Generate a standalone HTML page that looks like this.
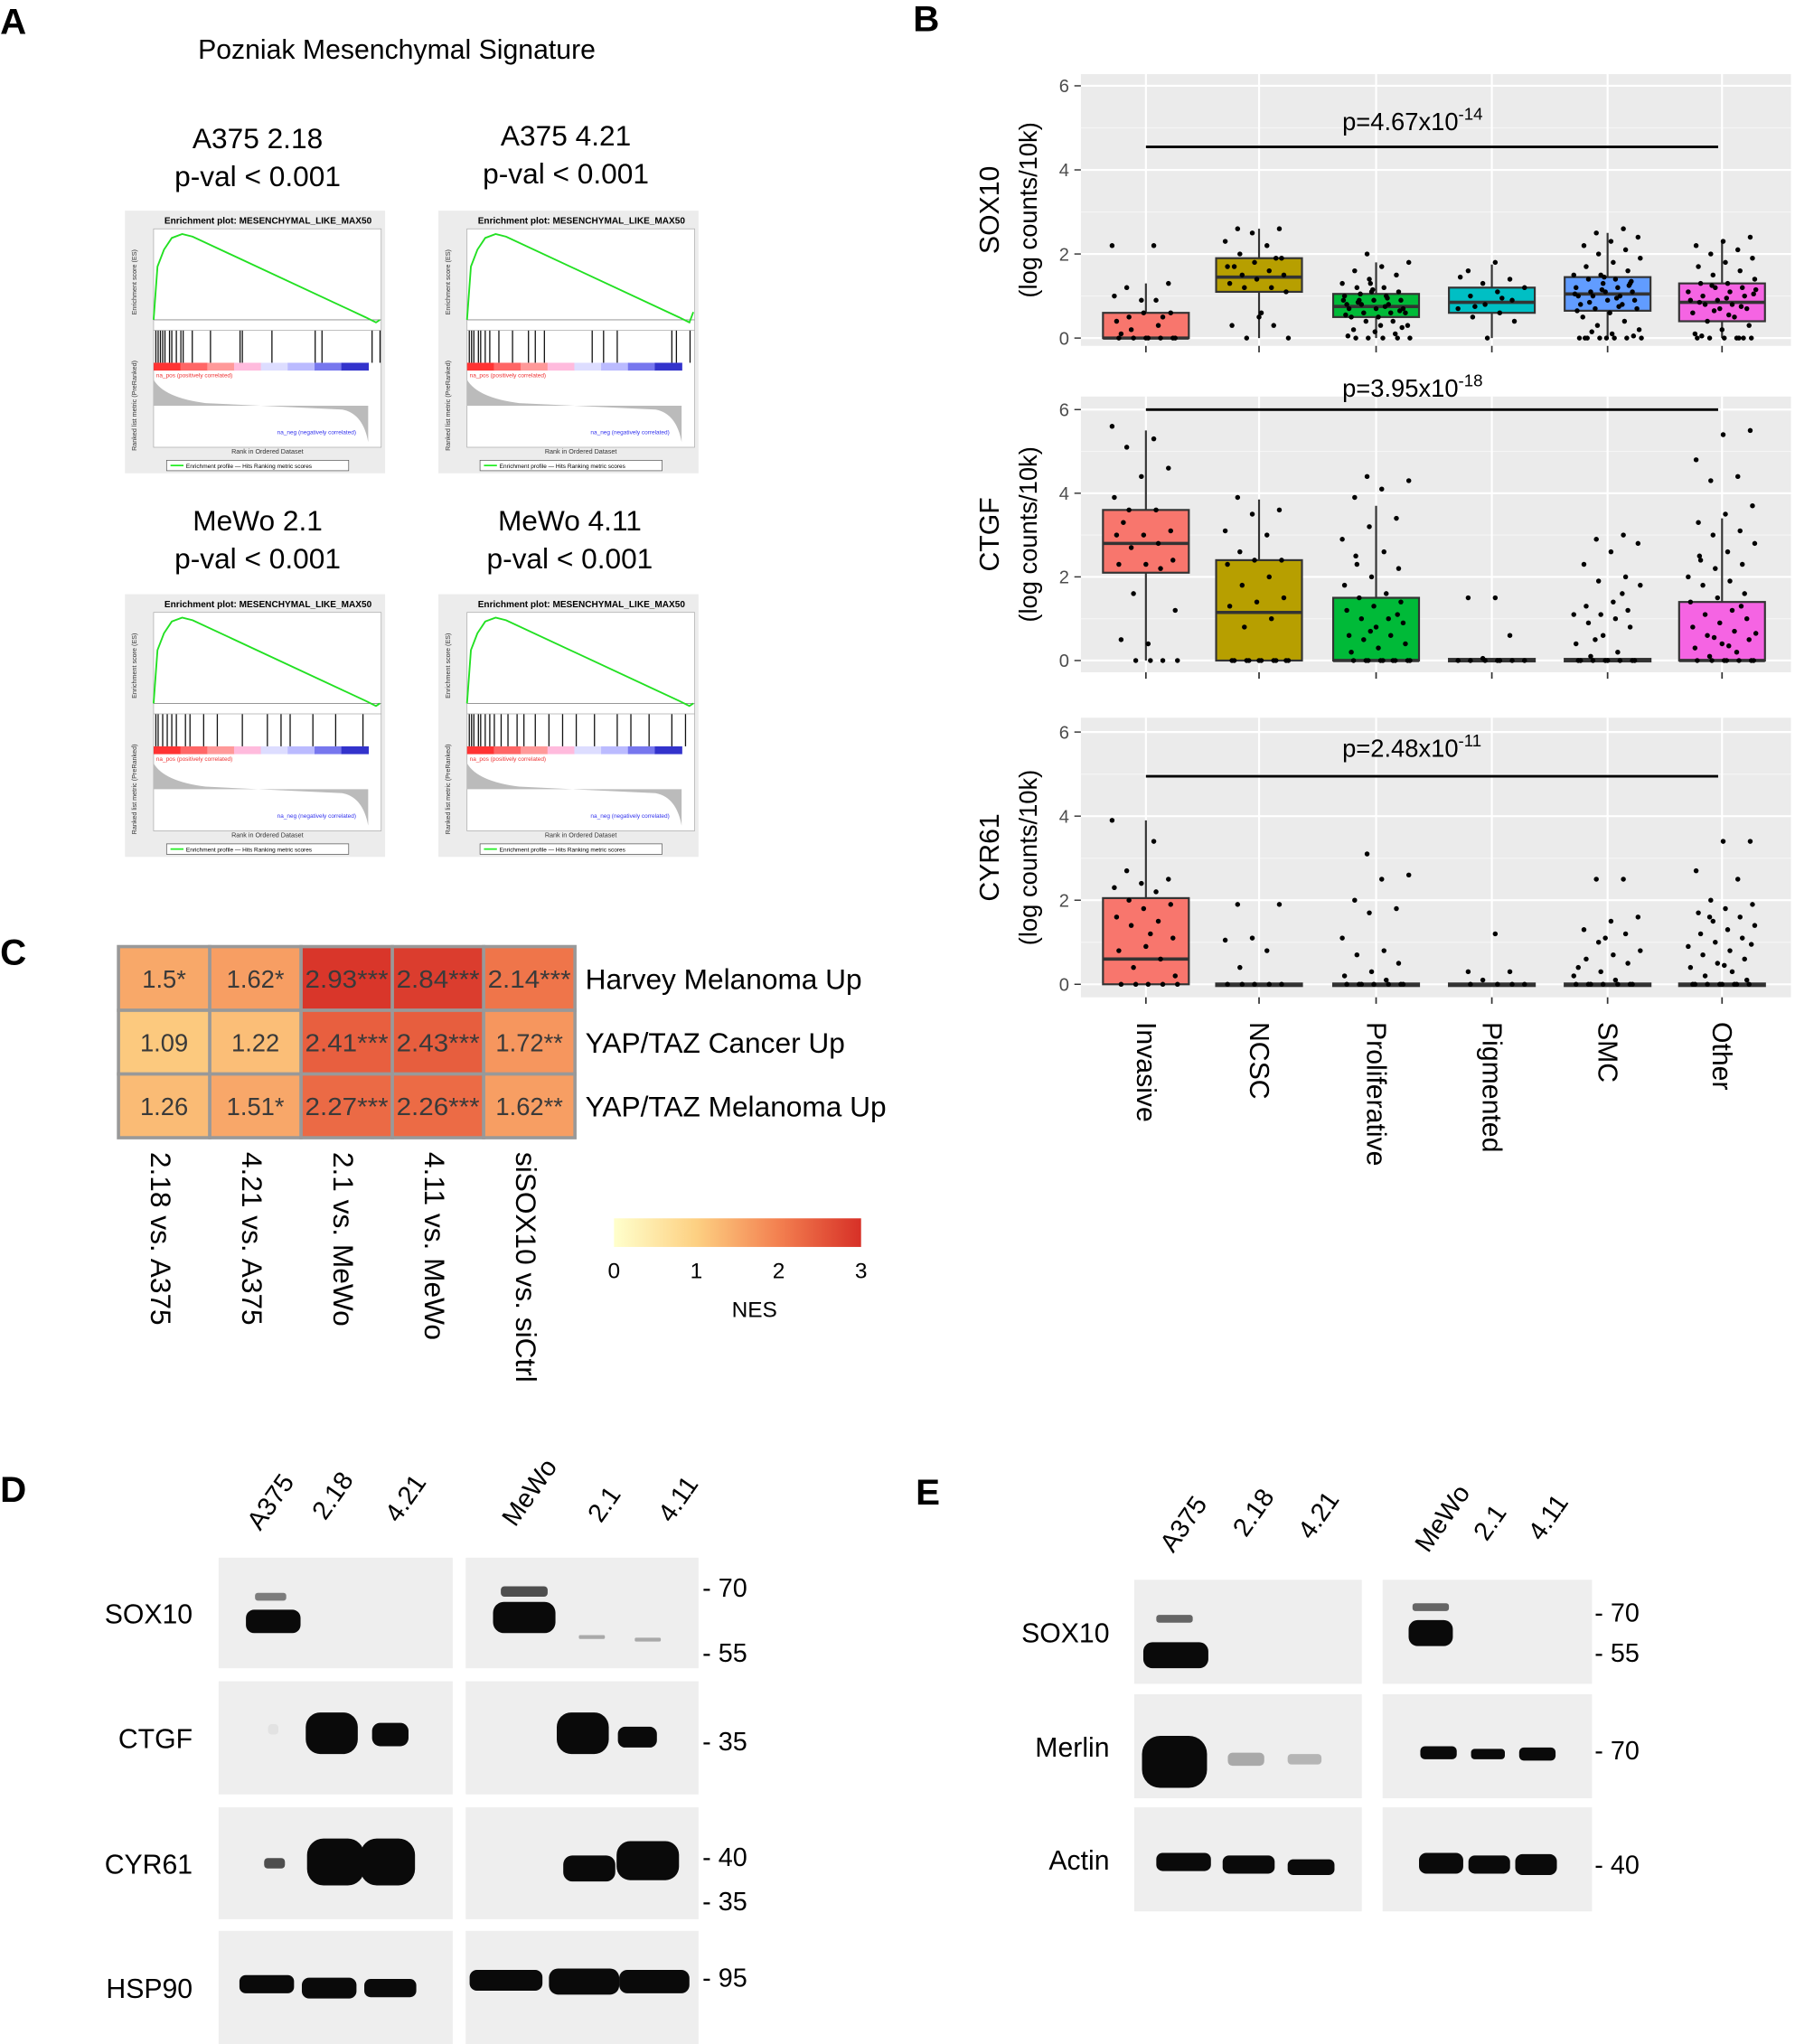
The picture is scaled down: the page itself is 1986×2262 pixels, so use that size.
<!DOCTYPE html>
<html><head><meta charset="utf-8"><style>
html,body{margin:0;padding:0;background:#fff}
svg{display:block;font-family:"Liberation Sans",Arial,sans-serif}
</style></head><body>
<svg id="fig" width="1986" height="2262" viewBox="0 0 1380 1572" xmlns="http://www.w3.org/2000/svg">
<g id="panelA">
<text x="0" y="26" font-size="28" font-weight="bold">A</text>
<text x="305" y="45" font-size="21" text-anchor="middle">Pozniak Mesenchymal Signature</text>
<g><text x="198" y="114" font-size="22" text-anchor="middle">A375  2.18</text><text x="198" y="143" font-size="22" text-anchor="middle">p-val &lt; 0.001</text></g>
<g><text x="435" y="112" font-size="22" text-anchor="middle">A375  4.21</text><text x="435" y="141" font-size="22" text-anchor="middle">p-val &lt; 0.001</text></g>
<g><text x="198" y="408" font-size="22" text-anchor="middle">MeWo 2.1</text><text x="198" y="437" font-size="22" text-anchor="middle">p-val &lt; 0.001</text></g>
<g><text x="438" y="408" font-size="22" text-anchor="middle">MeWo 4.11</text><text x="438" y="437" font-size="22" text-anchor="middle">p-val &lt; 0.001</text></g>
<g id="gseaHost"></g>
</g>
<g id="panelB">
<text x="702" y="24" font-size="28" font-weight="bold">B</text>
</g>
<g id="panelC">
<text x="0" y="742" font-size="28" font-weight="bold">C</text>
</g>
<g id="panelD">
<text x="0" y="1155" font-size="28" font-weight="bold">D</text>
</g>
<g id="panelE">
<text x="704" y="1157" font-size="28" font-weight="bold">E</text>
</g>
</svg>
<script>
const NS='http://www.w3.org/2000/svg';
function mk(tag,attrs,parent,text){const e=document.createElementNS(NS,tag);for(const k in attrs)e.setAttribute(k,attrs[k]);if(text!==undefined)e.textContent=text;parent.appendChild(e);return e;}

/* ---------- Panel B data ---------- */
const categories=['Invasive','NCSC','Proliferative','Pigmented','SMC','Other'];
const boxColors=['#f8766d','#b79f00','#00ba38','#00bfc4','#619cff','#f564e3'];
const sox10Stats=[[0,0,0,0.6,1.3],[0,1.1,1.45,1.9,2.6],[0,0.5,0.75,1.05,1.8],[0,0.6,0.85,1.2,1.75],[0,0.65,1.05,1.45,2.5],[0,0.4,0.85,1.3,2.3]];
const ctgfStats=[[0,2.1,2.8,3.6,5.5],[0,0,1.15,2.4,3.85],[0,0,0,1.5,3.7],[0,0,0,0.04,0.04],[0,0,0,0.04,0.04],[0,0,0,1.4,3.4]];
const cyr61Stats=[[0,0,0.6,2.05,3.9],[0,0,0,0.02,0.02],[0,0,0,0.02,0.02],[0,0,0,0.02,0.02],[0,0,0,0.02,0.02],[0,0,0,0.02,0.02]];
const sox10Points=[[2.2,2.2,1.2,1.3,0.9,1,0.9,0.5,0.6,0.6,0.4,0.3,0.2,0,0,0,0,0,0,0,0.1,0.5],
[2.6,2.6,2.5,2.3,2.2,2,1.9,1.8,1.7,1.6,1.5,1.5,1.4,1.3,1.2,1.2,1.1,0.5,0.3,0.3,0,0,0.6,1.7,1.9],
[2,1.8,1.7,1.6,1.5,1.4,1.3,1.2,1.2,1.1,1.1,1,1,0.9,0.9,0.9,0.8,0.8,0.8,0.7,0.7,0.7,0.6,0.6,0.6,0.5,0.5,0.4,0.4,0.3,0.3,0.2,0.1,0,0,0,0,0,1.3,0.9,0.75,0.85,0.65,1.15,0.55,0.95,1.05,0.25,0.15,0.05],
[1.8,1.6,1.4,1.3,1.2,1.1,1,0.9,0.8,0.7,0.6,0.5,0.4,0,1.45,0.95,0.75],
[2.6,2.5,2.4,2.3,2.2,2.1,2,1.9,1.8,1.7,1.6,1.5,1.5,1.4,1.4,1.3,1.3,1.2,1.2,1.1,1.1,1.1,1,1,1,0.9,0.9,0.8,0.8,0.7,0.7,0.6,0.5,0.4,0.3,0.2,0.1,0,0,0,0,0,0,1.25,1.15,1.05,0.95,0.85,1.35,1.45,0.65,0.75,0.15,0.05,0,0],
[2.4,2.3,2.2,2.1,2,1.9,1.8,1.7,1.6,1.5,1.4,1.3,1.3,1.2,1.2,1.1,1.1,1,1,0.9,0.9,0.8,0.8,0.7,0.7,0.6,0.5,0.4,0.3,0.2,0.1,0,0,0,0,0,0,1.25,1.05,0.95,0.85,0.75,0.65,1.15,0.55,0.05,0]];
const ctgfPoints=[[5.6,5.3,5.1,4.6,4.4,3.9,3.6,3.6,3.1,3,3,2.8,2.7,2.4,2.3,2.3,2.2,1.6,1.2,0.4,0.5,0,0,0,0,3.3],
[3.9,3.6,3.5,3.1,3,2.6,2.4,2.4,2.3,2,1.8,1.5,1.4,1.3,1,0.8,0,0,0,0,0,0,0,0,0,0],
[4.4,4.3,4.1,3.9,3.4,3.2,2.9,2.6,2.3,2.2,2,1.8,1.6,1.5,1.4,1.3,1.2,1,1,0.9,0.8,0.6,0.6,0.5,0.4,0.3,0.2,0,0,0,0,0,0,0,0,0,2.5,1.1,0.7],
[1.5,1.5,0.6,0.05,0,0,0,0,0,0,0],
[3,2.9,2.8,2.6,2.3,2,1.9,1.8,1.4,1.3,1.2,1.1,1.1,1,0.9,0.8,0.6,0.4,0.2,0.1,0,0,0,0,0,0,0,0,1.6,0.5],
[5.5,5.4,4.8,4.4,4.3,3.7,3.5,3.3,3.1,3,2.8,2.6,2.4,2.3,2.2,2,1.9,1.8,1.6,1.5,1.4,1.2,1.1,1,0.9,0.8,0.7,0.6,0.5,0.4,0.3,0.2,0.1,0,0,0,0,0,0,0,2.5,1.3,0.55,0.65,0.35]];
const cyr61Points=[[3.9,3.4,2.7,2.5,2.4,2.3,2.2,2,1.9,1.8,1.6,1.5,1.4,1.1,0.9,0.8,0.6,0.4,0.2,0,0,0,0,0,1.2],
[1.9,1.9,1.1,1.05,0.8,0.4,0,0,0,0,0],
[3.1,2.6,2.5,2,1.8,1.7,1.1,0.8,0.7,0.5,0.3,0.2,0.1,0,0,0,0,0,0,0],
[1.2,0.3,0.3,0.1,0,0,0,0],
[2.5,2.5,1.6,1.5,1.3,1.2,1,0.8,0.7,0.6,0.5,0.3,0.2,0.1,0,0,0,0,0,0,0,1.1,0.4],
[3.4,3.4,2.7,2.5,2,1.9,1.8,1.7,1.6,1.5,1.4,1.3,1.2,1.1,1,0.9,0.8,0.7,0.6,0.5,0.4,0.3,0.2,0.1,0,0,0,0,0,0,0,0,1.6,0.95,0.45]];
const yTicks=[0,2,4,6];
const pvalBases=['p=4.67x10','p=3.95x10','p=2.48x10'];
const pvalExps=['-14','-18','-11'];
const genes=['SOX10','CTGF','CYR61'];

const B=document.getElementById('panelB');
const catX=[881,968,1058,1147,1236,1324];
const facets=[{y0:57,y1:266,t6:66,t0:260,stats:sox10Stats,pts:sox10Points,bar:113,pt:100},
{y0:305,y1:517,t6:315,t0:508,stats:ctgfStats,pts:ctgfPoints,bar:315,pt:305},
{y0:552,y1:767,t6:563,t0:757,stats:cyr61Stats,pts:cyr61Points,bar:597,pt:582}];
facets.forEach((f,fi)=>{
  const g=mk('g',{},B);
  
  
  const yS=v=>f.t0+(f.t6-f.t0)*v/6;
  const xS=i=>catX[i];
  const bg=mk('rect',{x:831,y:f.y0,width:546,height:f.y1-f.y0,fill:'#ebebeb'},g);
  
  
  [1,3,5].forEach(v=>mk('line',{x1:831,x2:1377,y1:yS(v),y2:yS(v),stroke:'#f5f5f5','stroke-width':0.8},g));
  yTicks.forEach(v=>{
    const gl=mk('line',{x1:831,x2:1377,y1:yS(v),y2:yS(v),stroke:'#fff','stroke-width':1.5},g);
    
    
    mk('line',{x1:826,x2:831,y1:yS(v),y2:yS(v),stroke:'#333','stroke-width':1},g);
    const t=mk('text',{x:822,y:yS(v)+5,'font-size':14,'text-anchor':'end',fill:'#4d4d4d'},g,String(v));
    
    
  });
  categories.forEach((c,i)=>{
    mk('line',{x1:xS(i),x2:xS(i),y1:f.y0,y2:f.y1,stroke:'#fff','stroke-width':1.5},g);
    mk('line',{x1:xS(i),x2:xS(i),y1:f.y1,y2:f.y1+5,stroke:'#333','stroke-width':1.2},g);
  });
  categories.forEach((c,i)=>{
    const s=f.stats[i];const x=xS(i),w=66;
    const bx=mk('g',{},g);
    
    
    mk('line',{x1:x,x2:x,y1:yS(s[0]),y2:yS(s[4]),stroke:'#333','stroke-width':1.5},bx);
    mk('rect',{x:x-w/2,y:yS(s[3]),width:w,height:Math.max(yS(s[1])-yS(s[3]),2),fill:boxColors[i],stroke:'#333','stroke-width':1.5},bx);
    mk('line',{x1:x-w/2,x2:x+w/2,y1:yS(s[2]),y2:yS(s[2]),stroke:'#333','stroke-width':2.5},bx);
    f.pts[i].forEach((v,k)=>{
      const off=(((k*37+i*11)%61)/60-0.5)*52;
      const p=mk('circle',{cx:x+off,cy:yS(v),r:1.9,fill:'#000'},bx);
      
      
    });
  });
  const bar=mk('line',{x1:xS(0),x2:xS(5)-3,y1:f.bar,y2:f.bar,stroke:'#000','stroke-width':2},g);
  
  
  const pt=mk('text',{x:1032,y:f.pt,'font-size':19},g);
  
  
  mk('tspan',{},pt,pvalBases[fi]);
  mk('tspan',{dy:-8,'font-size':13},pt,pvalExps[fi]);
  const yt=mk('text',{transform:`translate(768,${(f.y0+f.y1)/2}) rotate(-90)`,'font-size':21,'text-anchor':'middle'},g,genes[fi]);
  
  
  const yt2=mk('text',{transform:`translate(797,${(f.y0+f.y1)/2}) rotate(-90)`,'font-size':19,'text-anchor':'middle'},g,'(log counts/10k)');
  
  
});
categories.forEach((c,i)=>{
  const t=mk('text',{transform:`translate(${catX[i]-7},786) rotate(90)`,'font-size':21},B,c);
  
  
});

/* ---------- Panel C heatmap ---------- */
const hmCols=['2.18 vs. A375','4.21 vs. A375','2.1 vs. MeWo','4.11 vs. MeWo','siSOX10 vs. siCtrl'];
const hmRows=['Harvey Melanoma Up','YAP/TAZ Cancer Up','YAP/TAZ Melanoma Up'];
const hmHarvey=[1.5,1.62,2.93,2.84,2.14];
const hmYapCancer=[1.09,1.22,2.41,2.43,1.72];
const hmYapMel=[1.26,1.51,2.27,2.26,1.62];
const hmStars=[['*','*','***','***','***'],['','','***','***','**'],['','*','***','***','**']];
const legendTicks=[0,1,2,3];
const stops=[[0,[255,255,204]],[1,[253,208,130]],[2,[243,128,80]],[3,[215,48,39]]];
function col(v){v=Math.max(0,Math.min(3,v));const i=Math.min(2,Math.floor(v));const t=v-i;const a=stops[i][1],b=stops[i+1][1];return 'rgb('+a.map((x,k)=>Math.round(x+(b[k]-x)*t)).join(',')+')';}
const C=document.getElementById('panelC');
const hx0=91,cw=70.2,hy0=728,rh=49;
[hmHarvey,hmYapCancer,hmYapMel].forEach((row,r)=>{
  row.forEach((v,c)=>{
    const cell=mk('rect',{x:hx0+c*cw,y:hy0+r*rh,width:cw,height:rh,fill:col(v),stroke:'#999','stroke-width':2.5},C);
    
    
    const attrs={x:hx0+c*cw+cw/2,y:hy0+r*rh+rh/2+7,'font-size':19,'text-anchor':'middle',fill:'#3a3a3a'};
    if(hmStars[r][c].length>2){attrs.textLength=64;attrs.lengthAdjust='spacingAndGlyphs';}
    const t=mk('text',attrs,C,String(v)+hmStars[r][c]);
    
    
  });
  const rl=mk('text',{x:450,y:hy0+r*rh+rh/2+8,'font-size':22},C,hmRows[r]);
  
  
});
hmCols.forEach((c,i)=>{
  const t=mk('text',{transform:`translate(${hx0+i*cw+cw/2-10},886) rotate(90)`,'font-size':22},C,c);
  
  
});
const defs=mk('defs',{},document.getElementById('fig'));
const lg=mk('linearGradient',{id:'nesg',x1:0,x2:1,y1:0,y2:0},defs);
[0,1,2,3].forEach(v=>mk('stop',{offset:v/3,'stop-color':col(v)},lg));
const lb=mk('rect',{x:472,y:937,width:190,height:22,fill:'url(#nesg)'},C);


legendTicks.forEach(v=>{
  const t=mk('text',{x:472+v*190/3,y:983,'font-size':17,'text-anchor':'middle'},C,String(v));
  
  
});
const nes=mk('text',{x:580,y:1013,'font-size':17,'text-anchor':'middle'},C,'NES');



/* ---------- Panel A GSEA mini plots ---------- */
const A=document.getElementById('gseaHost');
const gseaBoxes=[[96,162],[337,162],[96,457],[337,457]];
const gseaHits=[[0.01,0.02,0.03,0.04,0.05,0.07,0.08,0.1,0.12,0.13,0.17,0.25,0.38,0.39,0.52,0.71,0.74,0.96,0.995],
[0.01,0.02,0.03,0.05,0.06,0.08,0.1,0.14,0.2,0.27,0.3,0.34,0.55,0.6,0.66,0.9,0.92,0.98],
[0.01,0.02,0.04,0.06,0.08,0.1,0.14,0.16,0.22,0.28,0.39,0.5,0.56,0.6,0.7,0.8,0.92],
[0.01,0.02,0.03,0.05,0.06,0.08,0.1,0.12,0.15,0.18,0.22,0.25,0.3,0.36,0.42,0.48,0.56,0.66,0.72,0.8,0.9,0.96]];
gseaBoxes.forEach((b,gi)=>{
  const [x0,y0]=b;const W=200,H=202;
  const g=mk('g',{},A);
  
  
  mk('rect',{x:x0,y:y0,width:W,height:H,fill:'#ececec'},g);
  const pl=x0+22,pr=x0+197;
  mk('rect',{x:pl,y:y0+14,width:pr-pl,height:168,fill:'#fff',stroke:'#aaa','stroke-width':0.5},g);
  mk('text',{x:x0+W/2+10,y:y0+10,'font-size':7,'font-weight':'bold','text-anchor':'middle'},g,'Enrichment plot: MESENCHYMAL_LIKE_MAX50');
  const zy=y0+84,top=y0+18;
  mk('line',{x1:pl,x2:pr,y1:zy,y2:zy,stroke:'#888','stroke-width':0.6},g);
  const d=`M${pl},${zy} L${pl+3},${top+25} L${pl+8},${top+12} L${pl+14},${top+3} L${pl+22},${top} L${pl+30},${top+2} L${pr-12},${zy-2} L${pr-4},${zy+2} L${pr-1},${gi==1?zy-6:zy}`;
  mk('path',{d,fill:'none',stroke:'#22e022','stroke-width':1.3},g);
  gseaHits[gi].forEach(h=>mk('line',{x1:pl+h*(pr-pl),x2:pl+h*(pr-pl),y1:y0+92,y2:y0+117,stroke:'#111','stroke-width':0.9},g));
  mk('line',{x1:pl,x2:pr,y1:y0+92,y2:y0+92,stroke:'#aaa','stroke-width':0.5},g);
  const cb=['#f33','#f66','#f99','#fbd','#ddf','#bbf','#77e','#33c'];
  cb.forEach((c,k)=>mk('rect',{x:pl+k*(pr-pl-10)/8,y:y0+117,width:(pr-pl-10)/8+0.5,height:6,fill:c},g));
  const lz=y0+150;
  mk('path',{d:`M${pl},${y0+130} Q${pl+8},${lz-6} ${pl+40},${lz-2} L${pr-30},${lz+3} Q${pr-14},${lz+6} ${pr-10},${y0+178} L${pr-10},${lz} L${pl},${lz} Z`,fill:'#bbb'},g);
  mk('text',{x:pl+2,y:y0+128,'font-size':4.5,fill:'#e33'},g,'na_pos (positively correlated)');
  mk('text',{x:pr-80,y:y0+172,'font-size':4.5,fill:'#33e'},g,'na_neg (negatively correlated)');
  mk('text',{transform:`translate(${x0+9},${y0+55}) rotate(-90)`,'font-size':5,'text-anchor':'middle',fill:'#333'},g,'Enrichment score (ES)');
  mk('text',{transform:`translate(${x0+9},${y0+150}) rotate(-90)`,'font-size':5,'text-anchor':'middle',fill:'#333'},g,'Ranked list metric (PreRanked)');
  mk('text',{x:(pl+pr)/2,y:y0+187,'font-size':5,'text-anchor':'middle',fill:'#333'},g,'Rank in Ordered Dataset');
  mk('rect',{x:x0+32,y:y0+192,width:140,height:8,fill:'#fff',stroke:'#555','stroke-width':0.5},g);
  mk('line',{x1:x0+35,x2:x0+45,y1:y0+196,y2:y0+196,stroke:'#2e2','stroke-width':1.2},g);
  mk('text',{x:x0+47,y:y0+198,'font-size':4.5},g,'Enrichment profile  — Hits       Ranking metric scores');
});

/* ---------- Blots ---------- */
function blotPanel(parent,x,y,w,h,bands,name){
  const g=mk('g',{},parent);
  
  
  mk('rect',{x,y,width:w,height:h,fill:'#eeeeee'},g);
  bands.forEach(b=>{const r=Math.min(b[2],b[3])*0.7;mk('rect',{x:b[0]-b[2],y:b[1]-b[3],width:2*b[2],height:2*b[3],rx:r,ry:r,fill:'#0a0a0a',opacity:b[4]===undefined?1:b[4]},g);});
}
const D=document.getElementById('panelD');
['A375','2.18','4.21'].forEach((l,i)=>{const t=mk('text',{transform:`translate(${[200,250,306][i]},${[1178,1170,1172][i]}) rotate(-55)`,'font-size':20},D,l);});
['MeWo','2.1','4.11'].forEach((l,i)=>{const t=mk('text',{transform:`translate(${[396,462,516][i]},${[1175,1172,1172][i]}) rotate(-55)`,'font-size':20},D,l);});
const dRows=[['SOX10',1198,85],['CTGF',1293,87],['CYR61',1390,86],['HSP90',1485,87]];
const dL=[[[210,1247,21,9],[208,1228,12,3,0.5]],[[210,1330,4,4,0.05],[255,1333,20,16],[300,1334,14,9]],[[211,1433,8,4,0.7],[258,1432,22,18],[298,1432,21,18]],[[205,1526,21,7],[253,1529,21,8],[300,1529,20,7]]];
const dR=[[[403,1244,24,12],[403,1224,18,4,0.7],[455,1259,10,1.5,0.3],[498,1261,10,1.5,0.3]],[[448,1333,20,16],[490,1336,15,8]],[[453,1437,20,10],[498,1431,24,15]],[[389,1523,28,8],[449,1524,27,10],[503,1524,27,9]]];
dRows.forEach((r,i)=>{
  const t=mk('text',{x:148,y:r[1]+r[2]/2+8,'font-size':21,'text-anchor':'end'},D,r[0]);
  blotPanel(D,168,r[1],180,r[2],dL[i],'blot-'+r[0].toLowerCase()+'-a375');
  blotPanel(D,358,r[1],179,r[2],dR[i],'blot-'+r[0].toLowerCase()+'-mewo');
});
[['70',1221],['55',1271],['35',1339],['40',1428],['35',1462],['95',1521]].forEach(m=>{const t=mk('text',{x:540,y:m[1]+7,'font-size':20},D,'- '+m[0]);});
const E=document.getElementById('panelE');
['A375','2.18','4.21'].forEach((l,i)=>{const t=mk('text',{transform:`translate(${[902,958,1008][i]},${[1195,1183,1185][i]}) rotate(-55)`,'font-size':20},E,l);});
['MeWo','2.1','4.11'].forEach((l,i)=>{const t=mk('text',{transform:`translate(${[1098,1143,1185][i]},${[1195,1186,1186][i]}) rotate(-55)`,'font-size':20},E,l);});
const eRows=[['SOX10',1215,80],['Merlin',1303,80],['Actin',1390,80]];
const eL=[[[904,1273,25,10],[903,1245,14,3,0.6]],[[903,1355,25,20],[958,1353,14,5,0.3],[1003,1353,13,4,0.25]],[[910,1432,21,7],[960,1434,20,7],[1008,1436,18,6]]];
const eR=[[[1100,1256,17,10],[1100,1236,14,3,0.6]],[[1106,1348,14,5],[1144,1349,13,4],[1182,1349,14,5]],[[1108,1433,17,8],[1145,1434,16,7],[1181,1434,16,8]]];
eRows.forEach((r,i)=>{
  const t=mk('text',{x:853,y:r[1]+r[2]/2+8,'font-size':21,'text-anchor':'end'},E,r[0]);
  blotPanel(E,872,r[1],175,r[2],eL[i],'blot-'+r[0].toLowerCase()+'-a375');
  blotPanel(E,1063,r[1],161,r[2],eR[i],'blot-'+r[0].toLowerCase()+'-mewo');
});
[['70',1240],['55',1271],['70',1346],['40',1434]].forEach(m=>{const t=mk('text',{x:1226,y:m[1]+7,'font-size':20},E,'- '+m[0]);});
</script>
</body></html>
